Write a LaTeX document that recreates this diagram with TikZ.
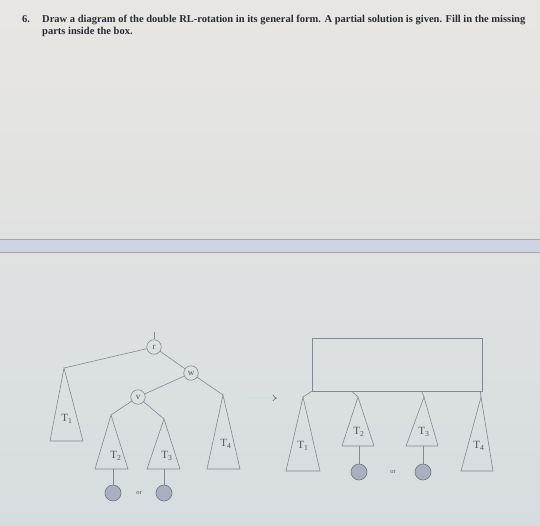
\documentclass[tikz,border=0pt]{standalone}
\usepackage{fontspec}
\setmainfont{Liberation Serif}
\usetikzlibrary{arrows.meta}
\definecolor{bgtop}{RGB}{232,230,226}
\definecolor{bgbot}{RGB}{214,221,224}
\definecolor{band}{RGB}{205,212,228}
\definecolor{ink}{RGB}{128,136,146}
\definecolor{txt}{RGB}{40,44,56}
\definecolor{lbl}{RGB}{80,86,96}
\definecolor{dotfill}{RGB}{168,176,192}
\tikzset{
  treeline/.style={draw=ink, line width=0.6pt},
  keynode/.style={circle, draw=ink, line width=0.6pt, minimum size=14.5pt, inner sep=0pt, font=\fontsize{9}{9}\selectfont, text=lbl},
  dotnode/.style={circle, draw=ink!85!black, fill=dotfill, line width=0.6pt, minimum size=16pt, inner sep=0pt},
  tlabel/.style={font=\fontsize{11}{11}\selectfont, text=lbl, inner sep=0pt},
  ortext/.style={font=\fontsize{6.5}{6.5}\selectfont, text=lbl, inner sep=0pt},
  title/.style={font=\fontsize{10.5}{12}\selectfont\bfseries, text=txt, inner sep=0pt, anchor=base west},
  boxnode/.style={draw=ink, line width=0.6pt, inner sep=0pt}
}
\begin{document}
\begin{tikzpicture}[x=1pt,y=-1pt]
\useasboundingbox (0,0) rectangle (540,525);
\shade[top color=bgtop, bottom color=bgbot] (0,0) rectangle (540,525);
% screen band
\fill[band] (0,239) rectangle (540,252);
\draw[gray!70, line width=0.5pt] (0,239) -- (540,239);
\draw[gray!70, line width=0.5pt] (0,252) -- (540,252);

% title
\node[title] (num) at (22,22) {6.};
\node[title] (q1) at (42,22) {Draw a diagram of the double RL-rotation in its general form. A partial solution is given. Fill in the missing};
\node[title] (q2) at (42,34) {parts inside the box.};

% ---------- left tree ----------
\node[keynode] (r) at (154,347) {r};
\node[keynode] (w) at (191,373) {w};
\node[keynode] (v) at (138,397) {v};
\coordinate (rtop) at (154,332);
\draw[treeline] (rtop) -- (r);

% triangles (apex, base left, base right)
\coordinate (A1) at (64,368);  \coordinate (B1l) at (50,441);  \coordinate (B1r) at (83,441);
\coordinate (A2) at (111,415); \coordinate (B2l) at (95,469);  \coordinate (B2r) at (128,469);
\coordinate (A3) at (164,419); \coordinate (B3l) at (147,469); \coordinate (B3r) at (180,469);
\coordinate (A4) at (223,395); \coordinate (B4l) at (207,469); \coordinate (B4r) at (240,469);
\draw[treeline] (A1) -- (B1r) -- (B1l) -- cycle;
\draw[treeline] (A2) -- (B2r) -- (B2l) -- cycle;
\draw[treeline] (A3) -- (B3r) -- (B3l) -- cycle;
\draw[treeline] (A4) -- (B4r) -- (B4l) -- cycle;
\node[tlabel] (lT1) at (67,419) {T\textsubscript{1}};
\node[tlabel] (lT2) at (116,456) {T\textsubscript{2}};
\node[tlabel] (lT3) at (167,456) {T\textsubscript{3}};
\node[tlabel] (lT4) at (226,444) {T\textsubscript{4}};

\draw[treeline] (r) -- (A1);
\draw[treeline] (r) -- (w);
\draw[treeline] (w) -- (v);
\draw[treeline] (w) -- (A4);
\draw[treeline] (v) -- (A2);
\draw[treeline] (v) -- (A3);

\node[dotnode] (d1) at (113,493) {};
\node[dotnode] (d2) at (164,493) {};
\coordinate (s1) at (113,469); \coordinate (s2) at (164,469);
\draw[treeline] (s1) -- (d1);
\draw[treeline] (s2) -- (d2);
\node[ortext] (or1) at (139,493) {or};

% ---------- arrow ----------
\coordinate (arS) at (247,398);
\coordinate (arE) at (277,398);
\draw[draw=ink!80!black, line width=0.6pt, double=bgbot, double distance=1.6pt, -{Implies[length=4pt, width=8pt]}] (arS) -- (arE);

% ---------- right side ----------
\node[boxnode, minimum width=170pt, minimum height=53pt] (box) at (397,364.5) {};
\coordinate (C1) at (303,397); \coordinate (D1l) at (286,471); \coordinate (D1r) at (320,471);
\coordinate (C2) at (358,397); \coordinate (D2l) at (342,446); \coordinate (D2r) at (374,446);
\coordinate (C3) at (424,397); \coordinate (D3l) at (406,446); \coordinate (D3r) at (438,446);
\coordinate (C4) at (481,397); \coordinate (D4l) at (461,471); \coordinate (D4r) at (493,471);
\draw[treeline] (C1) -- (D1r) -- (D1l) -- cycle;
\draw[treeline] (C2) -- (D2r) -- (D2l) -- cycle;
\draw[treeline] (C3) -- (D3r) -- (D3l) -- cycle;
\draw[treeline] (C4) -- (D4r) -- (D4l) -- cycle;
\node[tlabel] (rT1) at (303,446) {T\textsubscript{1}};
\node[tlabel] (rT2) at (359,432) {T\textsubscript{2}};
\node[tlabel] (rT3) at (424,432) {T\textsubscript{3}};
\node[tlabel] (rT4) at (479,446) {T\textsubscript{4}};

\draw[treeline] (box.south west) -- (C1);
\draw[treeline] ([xshift=40pt]box.south west) -- (C2);
\draw[treeline] ([xshift=110pt]box.south west) -- (C3);
\draw[treeline] ([xshift=-2pt]box.south east) -- (C4);

\node[dotnode] (d3) at (359,472) {};
\node[dotnode] (d4) at (423,472) {};
\coordinate (s3) at (359,446); \coordinate (s4) at (423,446);
\draw[treeline] (s3) -- (d3);
\draw[treeline] (s4) -- (d4);
\node[ortext] (or2) at (393,472) {or};
\end{tikzpicture}
\end{document}
